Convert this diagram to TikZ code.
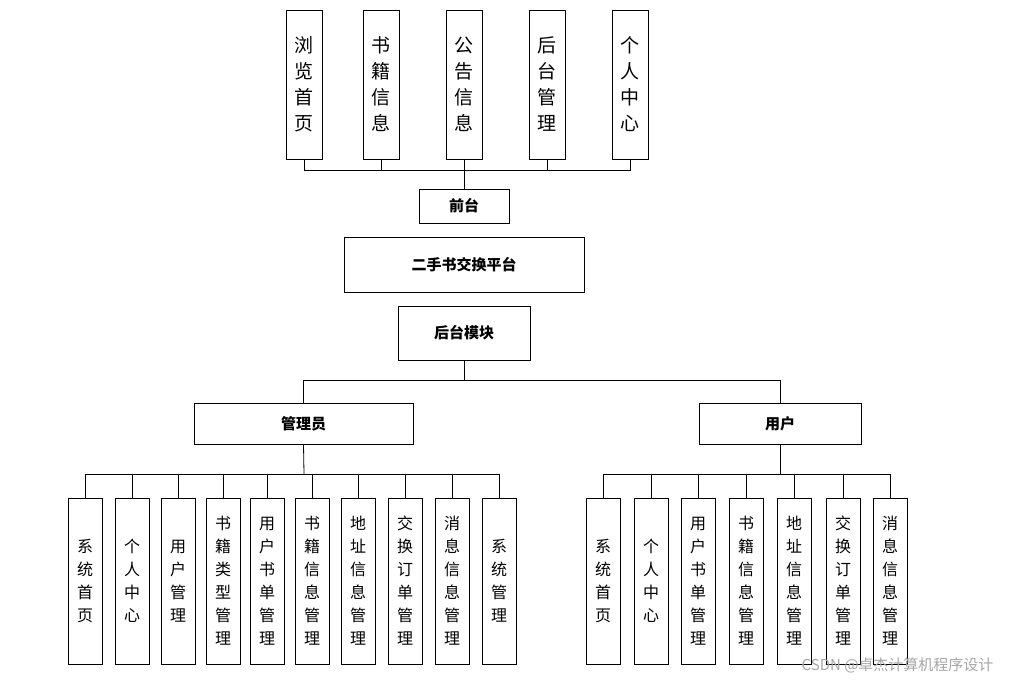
\documentclass[tikz,border=0pt]{standalone}
\usepackage{fontspec}
\setmainfont{Noto Sans CJK SC}
\begin{document}
\begin{tikzpicture}[x=1pt,y=-1pt,
  box/.style={draw,thick,fill=white,inner sep=0pt},
  vbox/.style={box,minimum width=36pt,minimum height=149pt,align=center,font=\fontsize{19}{26}\selectfont},
  cbox/.style={box,minimum width=34pt,minimum height=166pt,align=center,font=\fontsize{16}{23}\selectfont},
  hbox/.style={box,font=\bfseries\fontsize{15}{18}\selectfont},
  ln/.style={thick}]
\useasboundingbox (0,0) rectangle (1011,685);
% top
\foreach \x/\t [count=\i] in {304/浏\\览\\首\\页,381/书\\籍\\信\\息,464/公\\告\\信\\息,547/后\\台\\管\\理,630/个\\人\\中\\心}
  \node[vbox] (t\i) at (\x,84.5) {\t};
\node[hbox,minimum width=90pt,minimum height=34pt] (qt) at (464,206) {前台};
\node[hbox,minimum width=240pt,minimum height=55pt] (pt) at (464,264.5) {二手书交换平台};
\node[hbox,minimum width=132pt,minimum height=54pt] (ht) at (464,333) {后台模块};
\node[hbox,minimum width=219pt,minimum height=41pt] (gl) at (303.5,423.5) {管理员};
\node[hbox,minimum width=162pt,minimum height=41pt] (yh) at (780,423.5) {用户};
\coordinate (bus1) at (464,170);
\foreach \i in {1,...,5} \draw[ln] (t\i.south) |- (bus1);
\draw[ln] (t1.south) |- (t5.south |- bus1) -- (t5.south);
\draw[ln] (bus1) -- (qt.north);
\coordinate (bus2) at (464,380);
\draw[ln] (ht.south) -- (bus2);
\draw[ln] (gl.north) |- (yh.north |- bus2) -- (yh.north);
% admin
\foreach \x/\t [count=\i] in {85/系\\统\\首\\页,132/个\\人\\中\\心,178/用\\户\\管\\理,223/书\\籍\\类\\型\\管\\理,267/用\\户\\书\\单\\管\\理,312/书\\籍\\信\\息\\管\\理,358/地\\址\\信\\息\\管\\理,405/交\\换\\订\\单\\管\\理,452/消\\息\\信\\息\\管\\理,499/系\\统\\管\\理}
  \node[cbox] (a\i) at (\x,581) {\t};
\coordinate (bus3) at (304,474);
\draw[ln] (gl.south |- gl.south) -- (bus3);
\foreach \i in {1,...,10} \draw[ln] (a\i.north) |- (bus3);
\draw[ln] (a1.north) |- (a10.north |- bus3);
% user
\foreach \x/\t [count=\i] in {603/系\\统\\首\\页,651/个\\人\\中\\心,698/用\\户\\书\\单\\管\\理,746/书\\籍\\信\\息\\管\\理,794/地\\址\\信\\息\\管\\理,843/交\\换\\订\\单\\管\\理,890/消\\息\\信\\息\\管\\理}
  \node[cbox] (u\i) at (\x,581) {\t};
\coordinate (bus4) at (780,474);
\draw[ln] (yh.south) -- (bus4);
\foreach \i in {1,...,7} \draw[ln] (u\i.north) |- (bus4);
\draw[ln] (u1.north) |- (u7.north |- bus4);
\node[text=gray!70,font=\fontsize{15}{18}\selectfont,anchor=east] (wm) at (997,665) {CSDN @卓杰计算机程序设计};
\end{tikzpicture}
\end{document}
